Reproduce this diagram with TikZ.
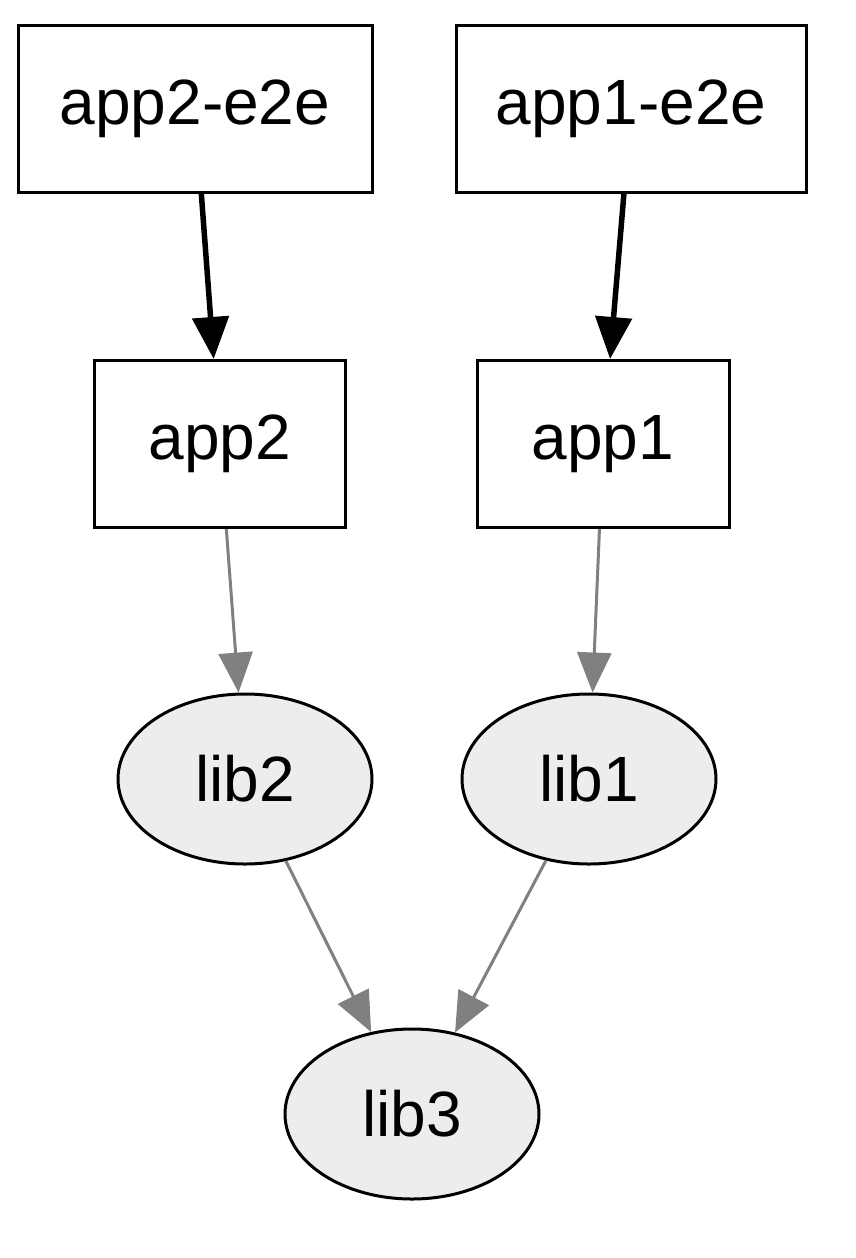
\documentclass[tikz,border=0pt]{standalone}
\usepackage{fontspec}
\setmainfont{Liberation Sans}
\usetikzlibrary{shapes.geometric,arrows.meta}
\begin{document}
\begin{tikzpicture}[x=1pt,y=-1pt,
  box/.style={draw,line width=3pt,minimum width=#1,minimum height=167pt,inner sep=0pt,font=\fontsize{64}{70}\selectfont},
  lib/.style={ellipse,draw,line width=3pt,fill=black!7,minimum width=254pt,minimum height=170pt,inner sep=0pt,font=\fontsize{64}{70}\selectfont},
  strong/.style={line width=5.5pt,-{Triangle[length=42pt,width=36pt]}},
  weak/.style={draw=black!50,line width=3pt,-{Triangle[length=40pt,width=34pt]}}]
\useasboundingbox (0,0) rectangle (855,1258);
\node[box=354pt] (a2e) at (195,109) {app2-e2e};
\node[box=350pt] (a1e) at (631,109) {app1-e2e};
\node[box=251pt] (a2) at (220,444) {app2};
\node[box=252pt] (a1) at (603,444) {app1};
\node[lib] (l2) at (245,779) {lib2};
\node[lib] (l1) at (589,779) {lib1};
\node[lib] (l3) at (412,1114) {lib3};
\draw[strong] (a2e) -- (a2);
\draw[strong] (a1e) -- (a1);
\draw[weak] (a2) -- (l2);
\draw[weak] (a1) -- (l1);
\draw[weak] (l2) -- (l3);
\draw[weak] (l1) -- (l3);
\end{tikzpicture}
\end{document}
